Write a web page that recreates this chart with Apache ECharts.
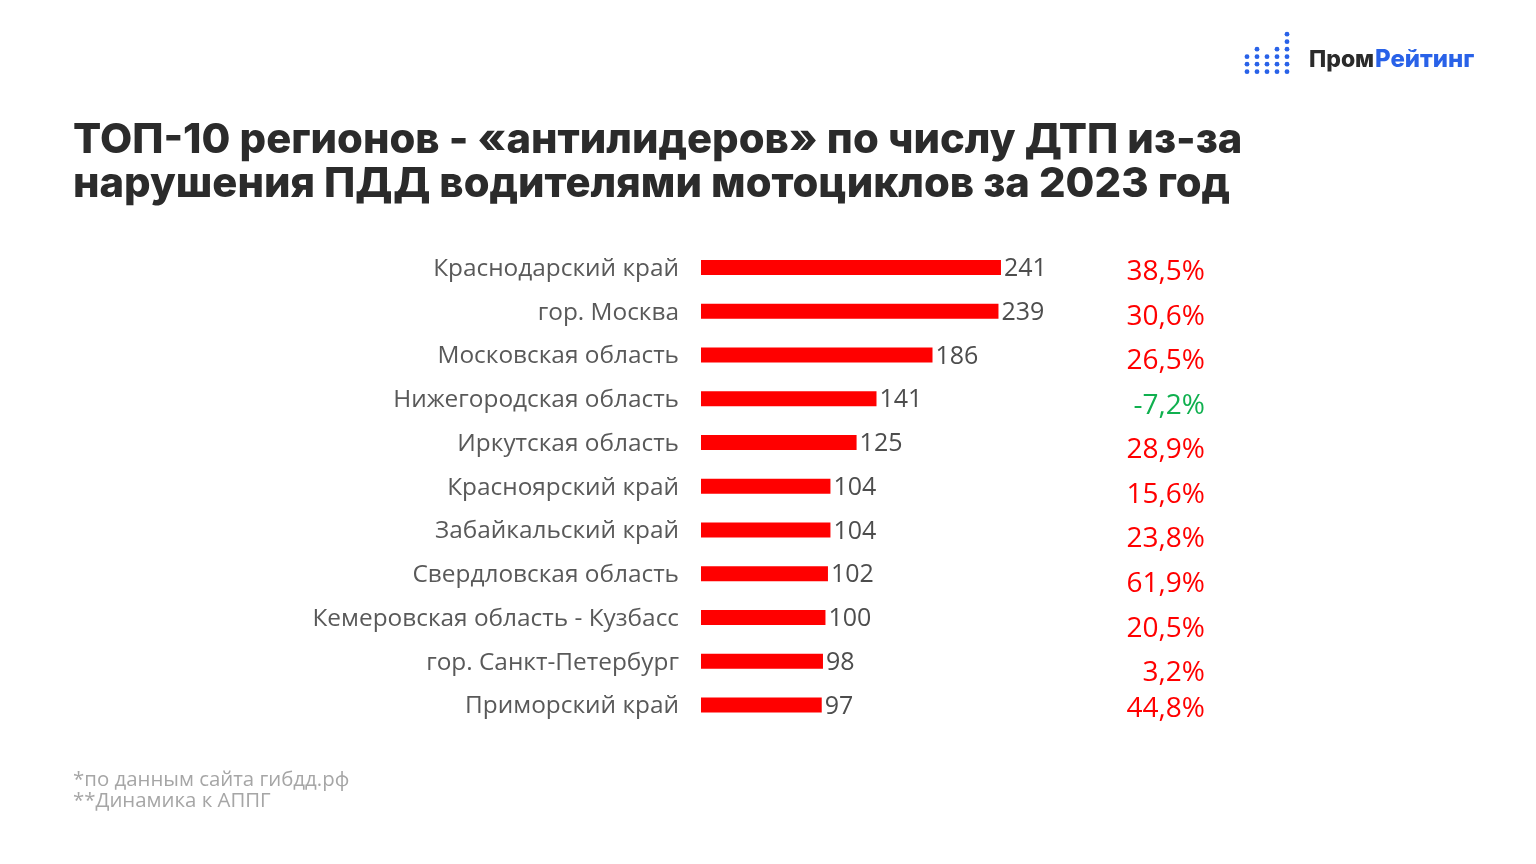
<!DOCTYPE html>
<html><head><meta charset="utf-8">
<style>html,body{margin:0;padding:0;background:#fff}#c{width:1536px;height:864px}</style>
<script src="https://cdn.jsdelivr.net/npm/echarts@6/dist/echarts.min.js"></script>
</head><body><div id="c"></div>
<script>
const categories=["Краснодарский край","гор. Москва","Московская область","Нижегородская область","Иркутская область","Красноярский край","Забайкальский край","Свердловская область","Кемеровская область - Кузбасс","гор. Санкт-Петербург","Приморский край"];
const values=[241,239,186,141,125,104,104,102,100,98,97];
const changes=["38,5%","30,6%","26,5%","-7,2%","28,9%","15,6%","23,8%","61,9%","20,5%","3,2%","44,8%"];
const titleLines=["ТОП-10 регионов - «антилидеров» по числу ДТП из-за","нарушения ПДД водителями мотоциклов за 2023 год"];
const footnotes=["*по данным сайта гибдд.рф","**Динамика к АППГ"];
const changeRowY=[272,317,361,406,450,495,539,584,629,673,709];
const logoColumns=[3,4,3,4,6];
const FONT='"Open Sans"';
const BLUE='#2962e8';
const g=[];
titleLines.forEach((t,i)=>g.push({type:'text',x:73,y:140+i*44,style:{text:t,font:'800 41.75px "Inter"',fill:'#2b2b2b',textVerticalAlign:'middle'}}));
footnotes.forEach((t,i)=>g.push({type:'text',x:73,y:780+i*21,style:{text:t,font:'20.4px '+FONT,fill:'#a6a6a6',textVerticalAlign:'middle'}}));
changes.forEach((t,i)=>g.push({type:'text',x:1205,y:changeRowY[i],style:{text:t,font:'28px '+FONT,fill:t[0]==='-'?'#10b04f':'#ff0000',textAlign:'right',textVerticalAlign:'middle'}}));
logoColumns.forEach((n,c)=>{for(let r=0;r<n;r++)g.push({type:'circle',shape:{cx:1247+c*10,cy:71.7-r*7.5,r:2.4},style:{fill:BLUE}})});
g.push({type:'text',x:1309,y:60,style:{text:'Пром',font:'800 23px "Inter"',fill:'#2b2b2b',textVerticalAlign:'middle'}});
g.push({type:'text',x:1375,y:60,style:{text:'Рейтинг',font:'800 24px "Inter"',fill:BLUE,textVerticalAlign:'middle'}});
const chart=echarts.init(document.getElementById('c'),null,{renderer:'canvas'});
chart.setOption({
 animation:false,backgroundColor:'#fff',
 grid:{left:701,top:245.6,width:373.4,height:481.25,containLabel:false},
 xAxis:{type:'value',min:0,max:300,show:false},
 yAxis:{type:'category',inverse:true,data:categories,axisLine:{show:false},axisTick:{show:false},splitLine:{show:false},
  axisLabel:{margin:22,fontFamily:FONT,fontSize:24.4,color:'#595959',
   formatter:v=>'{a|'+v+'}',rich:{a:{fontFamily:FONT,fontSize:24.4,color:'#595959',padding:[3,0,0,0]}}}},
 series:[{type:'bar',data:values,barWidth:15,itemStyle:{color:'#ff0000'},
  label:{show:true,position:'right',distance:3,offset:[0,1.5],fontFamily:FONT,fontSize:25,color:'#4d4d4d'}}],
 graphic:g
});
</script></body></html>
